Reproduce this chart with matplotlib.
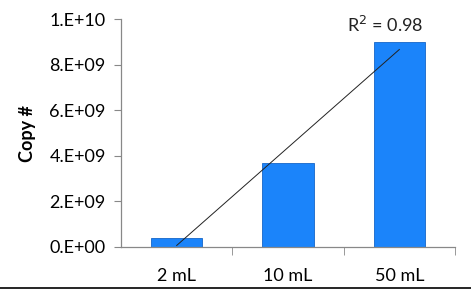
import matplotlib.pyplot as plt
import numpy as np
from matplotlib.lines import Line2D
from matplotlib.ticker import FixedLocator, NullFormatter

# Sample volumes and measured copy numbers
volumes = ['2 mL', '10 mL', '50 mL']
copies = [0.4e9, 3.7e9, 9.0e9]
y_ticks = [0, 2e9, 4e9, 6e9, 8e9, 1e10]
y_labels = ['0.E+00', '2.E+09', '4.E+09', '6.E+09', '8.E+09', '1.E+10']

plt.rcParams['font.family'] = ['Lato', 'DejaVu Sans']

fig = plt.figure(figsize=(4.71, 2.94), dpi=100)
ax = fig.add_axes([0.257, 0.160, 0.709, 0.775])

x = np.arange(len(volumes))
ax.bar(x, copies, width=0.46, color='#1B84FA', edgecolor='#1565C8', linewidth=0.6, zorder=2)

# Linear trendline through the bars:
coef = np.polyfit(x, copies, 1)
fit = np.polyval(coef, x)
ss_res = np.sum((np.array(copies) - fit) ** 2)
ss_tot = np.sum((np.array(copies) - np.mean(copies)) ** 2)
r2 = 1 - ss_res / ss_tot
ax.plot(x, fit, color='#222222', linewidth=0.7, zorder=3)
ax.text(1.87, 9.74e9, 'R$^2$ = %.2f' % r2, ha='center', va='center', fontsize=13, color='#222222')

ax.set_xlim(-0.5, 2.5)
ax.set_ylim(0, 1e10)
ax.set_yticks(y_ticks)
ax.set_yticklabels(y_labels, fontsize=13)
ax.set_xticks(x)
ax.set_xticklabels(volumes, fontsize=13)
ax.tick_params(axis='x', length=0, pad=15)
ax.tick_params(axis='y', length=5, color='#888888', direction='out', pad=6)
ax.xaxis.set_minor_locator(FixedLocator([0.5, 1.5, 2.5]))
ax.xaxis.set_minor_formatter(NullFormatter())
ax.tick_params(axis='x', which='minor', length=5.5, color='#888888', direction='out')
for side in ['top', 'right']:
    ax.spines[side].set_visible(False)
for side in ['left', 'bottom']:
    ax.spines[side].set_color('#888888')
    ax.spines[side].set_linewidth(0.9)
ax.set_ylabel('Copy #', fontsize=13, fontweight='bold', labelpad=10)

# Black border line at the bottom of the picture:
fig.add_artist(Line2D([0, 1], [0.02, 0.02], transform=fig.transFigure, color='black', linewidth=1.2))

fig.savefig('out.png', dpi=100)
